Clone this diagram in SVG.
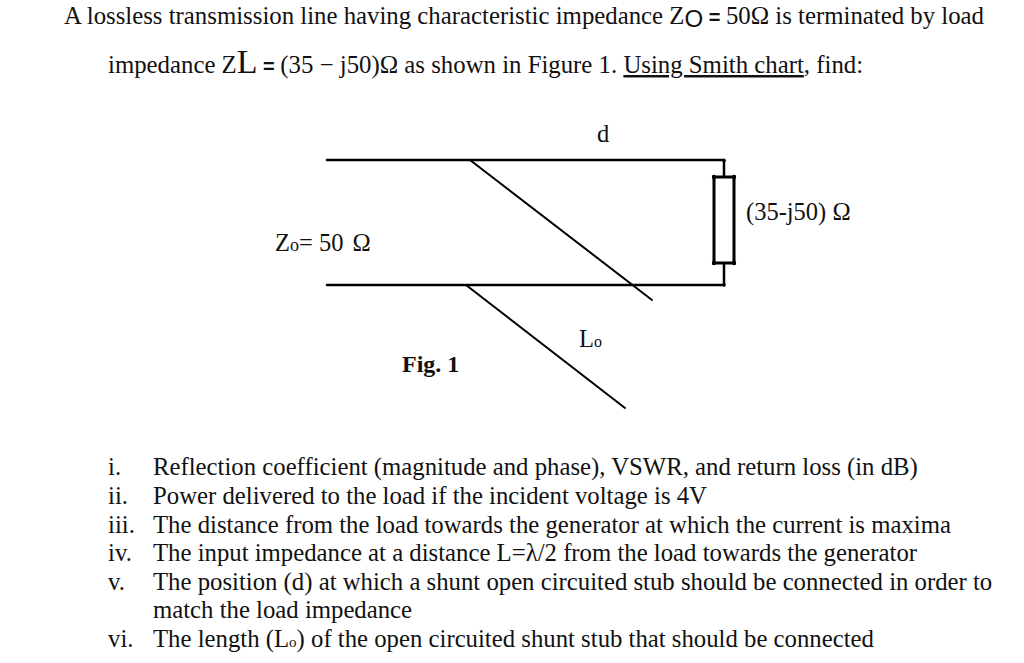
<svg xmlns="http://www.w3.org/2000/svg" width="1024" height="663" viewBox="0 0 1024 663">
<style>
text{font-family:"Liberation Serif","Times New Roman",serif;fill:#111}
.h{font-size:24.8px}
.l{font-size:24.75px}
.d{font-size:24.5px}
.f{font-size:24px;font-weight:700}
.s{font-family:"Liberation Sans",Arial,sans-serif}
.w{fill:none;stroke:#000;stroke-linecap:round}
</style>
<rect width="1024" height="663" fill="#fff"/>
<g id="heading">
<text class="h" x="64" y="24">A lossless transmission line having characteristic impedance Z<tspan class="s" font-size="24" dy="3">O</tspan><tspan class="s" font-size="20" font-weight="700" dy="-3"> = </tspan>50Ω is terminated by load</text>
<text class="h" x="108" y="73">impedance Z<tspan font-size="34">L</tspan><tspan class="s" font-size="20" font-weight="700"> = </tspan>(35 − j50)Ω as shown in Figure 1. <tspan text-decoration="underline">Using Smith chart</tspan>, find:</text>
</g>
<g id="connectors">
<path class="w" stroke-width="2.5" d="M327 160H724M327 285H724"/>
<path class="w" stroke-width="2" d="M470 160L652 300M466 285L625 408"/>
<path class="w" stroke-width="2.5" d="M724 160V176M724 264V285"/>
</g>
<g id="load">
<rect class="w" x="714" y="177" width="20" height="86" stroke-width="3"/>
<circle cx="714" cy="177" r="2.2"/><circle cx="734" cy="177" r="2.2"/><circle cx="714" cy="263" r="2.2"/><circle cx="734" cy="263" r="2.2"/>
<circle cx="724" cy="160.500" r="1.800"/><circle cx="724" cy="285" r="1.800"/>
</g>
<g id="labels">
<text class="d" x="597" y="142">d</text>
<text class="d" x="746" y="220">(35-j50) Ω</text>
<text class="d" x="275" y="251">Z<tspan font-size="18">o</tspan>= 50 <tspan dx="3">Ω</tspan></text>
<text class="d" x="579" y="347">L<tspan font-size="16">o</tspan></text>
<text class="f" x="402" y="372">Fig. 1</text>
</g>
<g id="list">
<text class="l" x="108" y="475">i.</text><text class="l" x="153" y="475">Reflection coefficient (magnitude and phase), VSWR, and return loss (in dB)</text>
<text class="l" x="108" y="504">ii.</text><text class="l" x="153" y="504">Power delivered to the load if the incident voltage is 4V</text>
<text class="l" x="108" y="533">iii.</text><text class="l" x="153" y="533">The distance from the load towards the generator at which the current is maxima</text>
<text class="l" x="108" y="561">iv.</text><text class="l" x="153" y="561">The input impedance at a distance L=λ/2 from the load towards the generator</text>
<text class="l" x="108" y="590">v.</text><text class="l" x="153" y="590">The position (d) at which a shunt open circuited stub should be connected in order to</text>
<text class="l" x="153" y="618">match the load impedance</text>
<text class="l" x="108" y="647">vi.</text><text class="l" x="153" y="647">The length (L<tspan font-size="15">o</tspan>) of the open circuited shunt stub that should be connected</text>
</g>
</svg>
